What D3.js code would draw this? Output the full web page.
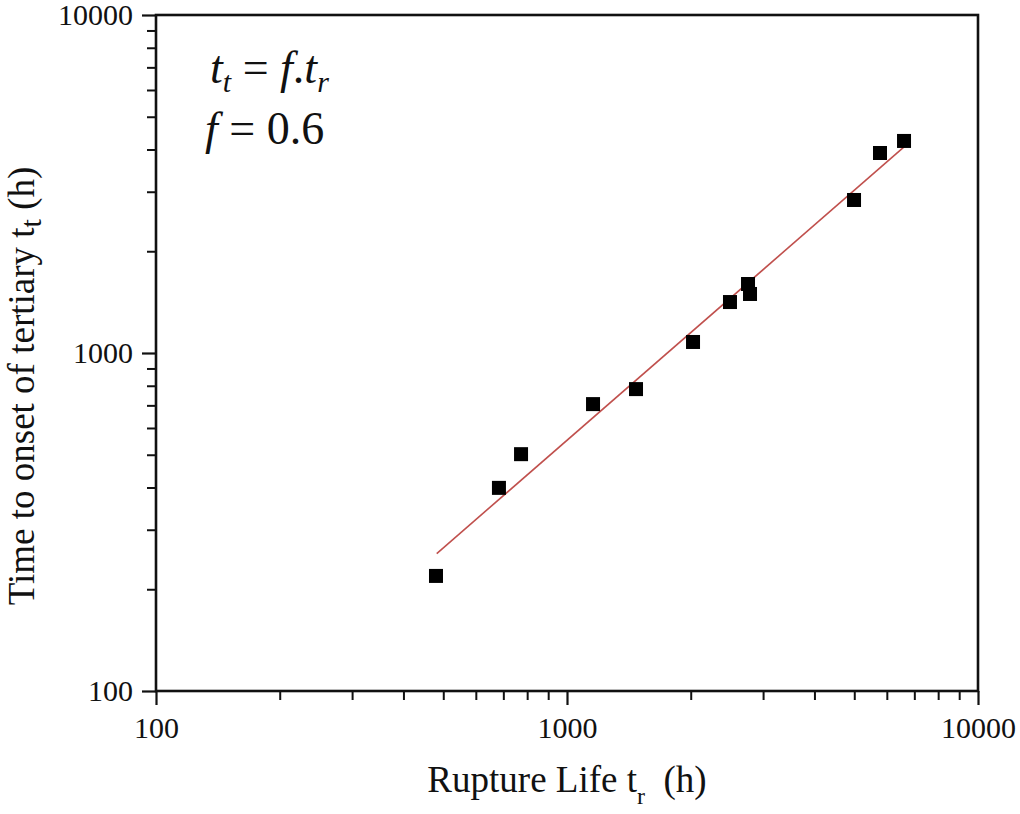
<!DOCTYPE html>
<meta charset="utf-8">
<html>
<head>
<script src="https://cdnjs.cloudflare.com/ajax/libs/d3/7.8.5/d3.min.js"></script>
<style>
    body { margin: 0; background: #fff; }
    text { font-family: "Liberation Serif", "Times New Roman", serif; fill: #111; }
    .axis path, .axis line { stroke: #111; }
</style>
</head>
<body>
<script>
    // rupture life t_r (h) and time to onset of tertiary t_t (h)
    var ruptureLife = [480, 683, 773, 1157, 1472, 2026, 2492, 2757, 2788, 4993, 5775, 6607];
    var tertiaryOnset = [219, 399, 502, 706, 782, 1078, 1415, 1600, 1495, 2836, 3906, 4240];

    // fitted line ends
    var fitX = [482, 6620];
    var fitY = [255, 4077];

    var majorTicks = [100, 1000, 10000];

    var width = 1020, height = 814;
    var mLeft = 156, mRight = 978, mTop = 15, mBottom = 691;

    var svg = d3.select("body").append("svg")
        .attr("width", width)
        .attr("height", height);

    var x = d3.scaleLog().domain([100, 10000]).range([mLeft, mRight]);
    var y = d3.scaleLog().domain([100, 10000]).range([mBottom, mTop]);

    var minorX = x.ticks().filter(function(d) { return majorTicks.indexOf(d) < 0; });
    var minorY = y.ticks().filter(function(d) { return majorTicks.indexOf(d) < 0; });

    // minor ticks
    svg.append("g").attr("class", "axis")
        .attr("transform", "translate(0," + mBottom + ")")
        .call(d3.axisBottom(x).tickValues(minorX).tickSize(9).tickFormat(""))
        .selectAll("line").attr("stroke-width", 2);

    svg.append("g").attr("class", "axis")
        .attr("transform", "translate(" + mLeft + ",0)")
        .call(d3.axisLeft(y).tickValues(minorY).tickSize(9).tickFormat(""))
        .selectAll("line").attr("stroke-width", 2);

    // major ticks with labels
    var xAxis = svg.append("g").attr("class", "axis")
        .attr("transform", "translate(0," + mBottom + ")")
        .call(d3.axisBottom(x).tickValues(majorTicks).tickSize(14).tickPadding(12).tickFormat(d3.format("d")));
    xAxis.selectAll("line").attr("stroke-width", 2.2);
    xAxis.selectAll("text").style("font-size", "30px");

    var yAxis = svg.append("g").attr("class", "axis")
        .attr("transform", "translate(" + mLeft + ",0)")
        .call(d3.axisLeft(y).tickValues(majorTicks).tickSize(14).tickPadding(9).tickFormat(d3.format("d")));
    yAxis.selectAll("line").attr("stroke-width", 2.2);
    yAxis.selectAll("text").style("font-size", "30px");

    svg.selectAll(".axis .domain").remove();

    // frame
    svg.append("rect")
        .attr("x", x(100)).attr("y", y(10000))
        .attr("width", x(10000) - x(100))
        .attr("height", y(100) - y(10000))
        .attr("fill", "none")
        .attr("stroke", "#111")
        .attr("stroke-width", 2.6);

    // fit line
    var fit = d3.line()
        .x(function(d) { return x(d[0]); })
        .y(function(d) { return y(d[1]); });
    svg.append("path")
        .datum(d3.zip(fitX, fitY))
        .attr("d", fit)
        .attr("fill", "none")
        .attr("stroke", "#c0504d")
        .attr("stroke-width", 1.6);

    // data squares
    var s = 14;
    svg.selectAll("rect.pt")
        .data(d3.zip(ruptureLife, tertiaryOnset))
        .enter().append("rect")
        .attr("class", "pt")
        .attr("x", function(d) { return x(d[0]) - s / 2; })
        .attr("y", function(d) { return y(d[1]) - s / 2; })
        .attr("width", s)
        .attr("height", s)
        .attr("fill", "#000");

    // axis titles
    var xt = svg.append("text")
        .attr("x", 567).attr("y", 792)
        .attr("text-anchor", "middle")
        .style("font-size", "37px");
    xt.append("tspan").text("Rupture Life t");
    xt.append("tspan").attr("dy", 12).style("font-size", "24px").text("r");
    xt.append("tspan").attr("dy", -12).text("\u00a0 (h)");

    var yt = svg.append("text")
        .attr("transform", "translate(34,386) rotate(-90)")
        .attr("text-anchor", "middle")
        .style("font-size", "37px");
    yt.append("tspan").text("Time to onset of tertiary t");
    yt.append("tspan").attr("dy", 7).style("font-size", "30px").text("t");
    yt.append("tspan").attr("dy", -7).text(" (h)");

    // annotation
    var a1 = svg.append("text")
        .attr("x", 210).attr("y", 83)
        .style("font-size", "46px");
    a1.append("tspan").style("font-style", "italic").text("t");
    a1.append("tspan").attr("dy", 9).style("font-style", "italic").style("font-size", "30px").text("t");
    a1.append("tspan").attr("dy", -9).text(" = ");
    a1.append("tspan").style("font-style", "italic").text("f");
    a1.append("tspan").text(".");
    a1.append("tspan").style("font-style", "italic").text("t");
    a1.append("tspan").attr("dy", 9).style("font-style", "italic").style("font-size", "30px").text("r");

    var a2 = svg.append("text")
        .attr("x", 205).attr("y", 144)
        .style("font-size", "46px");
    a2.append("tspan").style("font-style", "italic").text("f");
    a2.append("tspan").text(" = 0.6");
</script>
</body>
</html>
